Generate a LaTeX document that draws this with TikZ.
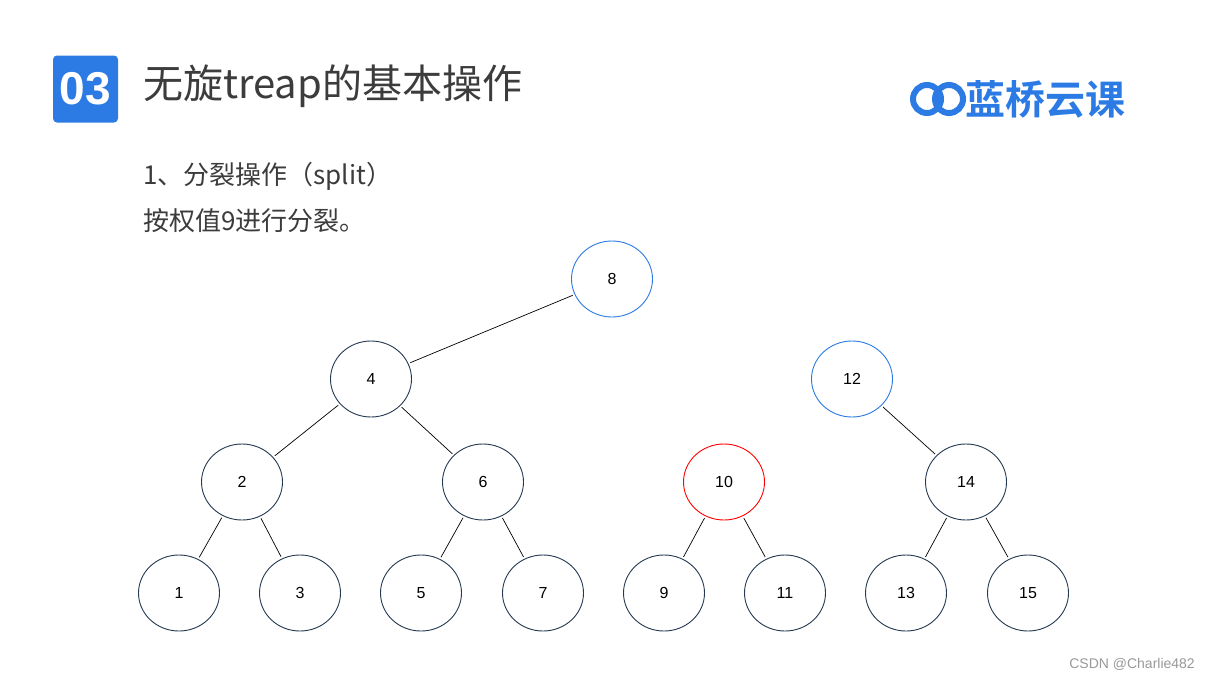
\documentclass[tikz,border=0pt]{standalone}
\usepackage{fontspec}
\setmainfont{Liberation Sans}
\newfontfamily\cjk{Noto Sans CJK SC}
\newfontfamily\cjkb{Noto Sans CJK SC Bold}
\usetikzlibrary{shapes.geometric}
\definecolor{bblue}{HTML}{2C7BE5}
\definecolor{nodeln}{HTML}{253A52}
\definecolor{txt}{HTML}{3C3C3C}
\tikzset{
  tn/.style={ellipse,draw=nodeln,line width=0.9pt,minimum width=81pt,minimum height=76pt,inner sep=0pt,font=\fontsize{16}{16}\selectfont},
  bn/.style={tn,draw=bblue},
  rn/.style={tn,draw=red},
  ed/.style={draw=black,line width=0.7pt,shorten <=2pt,shorten >=2pt}
}
\begin{document}
\begin{tikzpicture}[x=1pt,y=-1pt]
\useasboundingbox[fill=white] (0,0) rectangle (1209,680);
% header
\node[fill=bblue,rounded corners=4pt,minimum width=65pt,minimum height=67pt,inner sep=0pt,text=white,font=\bfseries\fontsize{46}{46}\selectfont] (badge) at (85.5,89) {03};
\node[anchor=west,text=txt,font=\cjk\fontsize{40}{40}\selectfont,inner sep=0pt] (title) at (143,86) {无旋treap的基本操作};
\node[anchor=west,text=txt,font=\cjk\fontsize{26}{26}\selectfont,inner sep=0pt] (sub1) at (143,176) {1、分裂操作（split）};
\node[anchor=west,text=txt,font=\cjk\fontsize{26}{26}\selectfont,inner sep=0pt] (sub2) at (143,221) {按权值9进行分裂。};
% logo
\draw[bblue,line width=6pt] (927,99) circle (14);
\draw[bblue,line width=6pt] (949,99) circle (14);
\node[anchor=west,text=bblue,font=\cjkb\fontsize{40}{40}\selectfont,inner sep=0pt] (logo) at (965,99) {蓝桥云课};
% tree
\node[bn] (n8) at (612,279) {8};
\node[tn] (n4) at (371,379) {4};
\node[bn] (n12) at (852,379) {12};
\node[tn] (n2) at (242,482) {2};
\node[tn] (n6) at (483,482) {6};
\node[rn] (n10) at (724,482) {10};
\node[tn] (n14) at (966,482) {14};
\node[tn] (n1) at (179,593) {1};
\node[tn] (n3) at (300,593) {3};
\node[tn] (n5) at (421,593) {5};
\node[tn] (n7) at (543,593) {7};
\node[tn] (n9) at (664,593) {9};
\node[tn] (n11) at (785,593) {11};
\node[tn] (n13) at (906,593) {13};
\node[tn] (n15) at (1028,593) {15};
\foreach \a/\b in {n8/n4,n4/n2,n4/n6,n2/n1,n2/n3,n6/n5,n6/n7,n10/n9,n10/n11,n12/n14,n14/n13,n14/n15}
  \draw[ed] (\a) -- (\b);
\node[anchor=east,text=gray!80,font=\fontsize{14}{14}\selectfont,inner sep=0pt] (wm) at (1195,664) {CSDN @Charlie482};
\end{tikzpicture}
\end{document}
